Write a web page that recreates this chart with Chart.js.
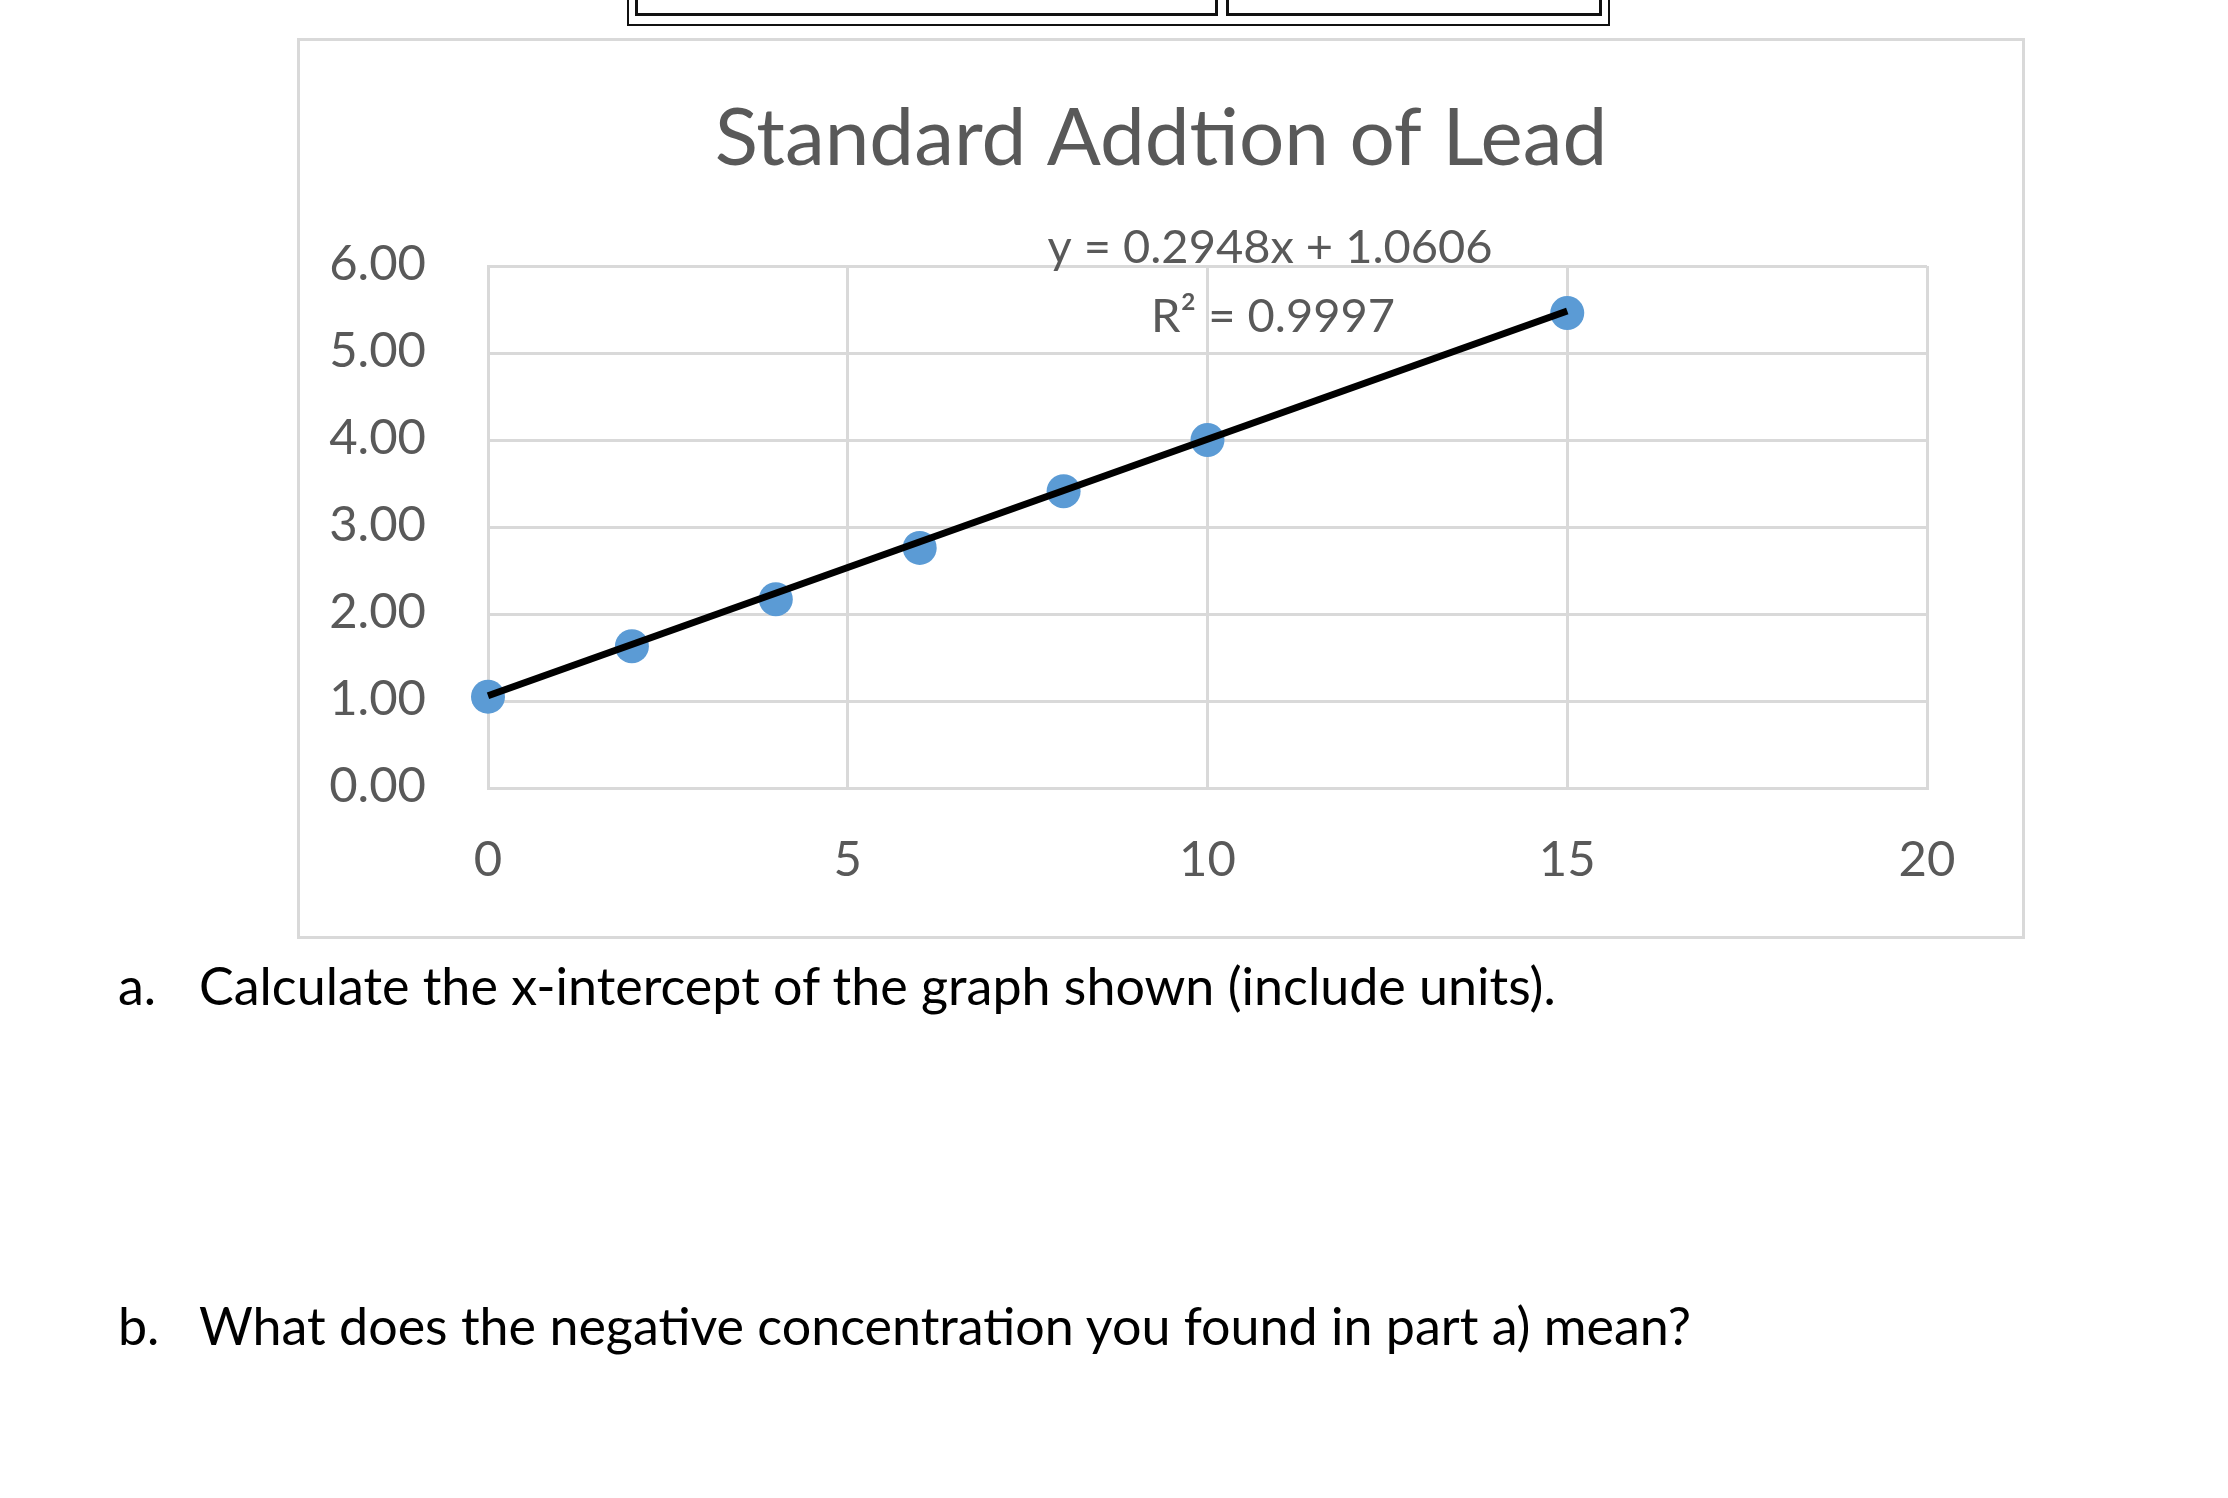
<!DOCTYPE html>
<html>
<head>
<meta charset="utf-8">
<title>Standard Addtion of Lead</title>
<script src="https://cdn.jsdelivr.net/npm/chart.js@4.4.1/dist/chart.umd.min.js"></script>
<style>
  html, body { margin: 0; padding: 0; background: #fff; }
  body { width: 2228px; height: 1498px; position: relative; overflow: hidden; font-family: 'Lato', sans-serif; }
  .tbl { position: absolute; top: -20px; left: 627px; width: 983px; height: 46px; border: 2px solid #111; box-sizing: border-box; }
  .cell { position: absolute; top: -20px; height: 36px; border: 3px solid #111; box-sizing: border-box; }
  #chartBox { position: absolute; left: 297px; top: 38px; width: 1728px; height: 901px; border: 3px solid #d9d9d9; box-sizing: border-box; }
  #chartBox canvas { display: block; }
  .q { position: absolute; font-size: 52px; line-height: 60px; color: #000; white-space: nowrap; }
</style>
</head>
<body>
<div class="tbl"></div>
<div class="cell" style="left:635px; width:583px;"></div>
<div class="cell" style="left:1226px; width:376px;"></div>

<div id="chartBox"><canvas id="chart" width="1722" height="895"></canvas></div>

<div class="q" style="left:118px; top:955px;">a.</div>
<div class="q" style="left:199px; top:955px;">Calculate the x-intercept of the graph shown (include units).</div>
<div class="q" style="left:118px; top:1295px;">b.</div>
<div class="q" style="left:199px; top:1295px;">What does the negative concentration you found in part a) mean?</div>

<script>
// data
const xValues = [0, 2, 4, 6, 8, 10, 15];
const yValues = [1.05, 1.63, 2.17, 2.76, 3.41, 4.00, 5.46];

// Excel trendline from the label
const trendSlope = 0.2948;
const trendIntercept = 1.0606;
const trendLabels = ['y = 0.2948x + 1.0606', 'R\u00b2 = 0.9997'];

const xTicks = [0, 5, 10, 15, 20];
const yTicks = [0, 1, 2, 3, 4, 5, 6];

const gray = '#595959';
const gridGray = '#d9d9d9';

const points = xValues.map((x, i) => ({ x: x, y: yValues[i] }));
const xMin = Math.min(...xValues);
const xMax = Math.max(...xValues);
const trendPoints = [xMin, xMax].map(x => ({ x: x, y: trendSlope * x + trendIntercept }));

// draws the trendline equation like Excel does
const trendLabelPlugin = {
  id: 'trendLabel',
  afterDraw(chart) {
    const { ctx, chartArea } = chart;
    ctx.save();
    ctx.font = '47px Lato';
    ctx.fillStyle = gray;
    ctx.textAlign = 'center';
    ctx.textBaseline = 'alphabetic';
    const cx = chartArea.left + 782;
    ctx.fillText(trendLabels[0], cx, chartArea.top - 3);
    ctx.fillText(trendLabels[1], cx + 3, chartArea.top + 66);
    ctx.restore();
  }
};

new Chart(document.getElementById('chart'), {
  type: 'scatter',
  data: {
    datasets: [
      {
        label: 'Linear',
        data: trendPoints,
        showLine: true,
        borderColor: '#000',
        borderWidth: 7,
        pointRadius: 0,
        clip: false,
        order: 0
      },
      {
        label: 'Pb',
        data: points,
        backgroundColor: '#5b9bd5',
        borderWidth: 0,
        pointRadius: 17,
        clip: false,
        order: 1
      }
    ]
  },
  options: {
    responsive: false,
    animation: false,
    layout: { padding: 0 },
    plugins: {
      legend: { display: false },
      tooltip: { enabled: false },
      title: {
        display: true,
        text: 'Standard Addtion of Lead',
        color: gray,
        font: { family: 'Lato', size: 80, weight: 'normal' },
        padding: { top: 50, bottom: 79 }
      }
    },
    scales: {
      x: {
        type: 'linear',
        min: 0,
        max: 20,
        afterBuildTicks: s => { s.ticks = xTicks.map(v => ({ value: v })); },
        afterFit: s => { s.height = 148; },
        ticks: { color: gray, font: { family: 'Lato', size: 49 }, padding: 43 },
        grid: { color: gridGray, lineWidth: 3, drawTicks: false },
        border: { color: gridGray, width: 3 }
      },
      y: {
        min: 0,
        max: 6,
        afterBuildTicks: s => { s.ticks = yTicks.map(v => ({ value: v })); },
        afterFit: s => { s.width = 188; },
        ticks: {
          color: gray,
          font: { family: 'Lato', size: 49 },
          padding: 62,
          labelOffset: -2,
          callback: v => v.toFixed(2)
        },
        grid: { color: gridGray, lineWidth: 3, drawTicks: false },
        border: { color: gridGray, width: 3 }
      },
      // empty strip on the right, keeps the plot where Excel put it
      yRight: {
        position: 'right',
        afterFit: s => { s.width = 95; },
        ticks: { display: false },
        grid: { display: false },
        border: { display: false }
      }
    }
  },
  plugins: [trendLabelPlugin]
});
</script>
</body>
</html>
